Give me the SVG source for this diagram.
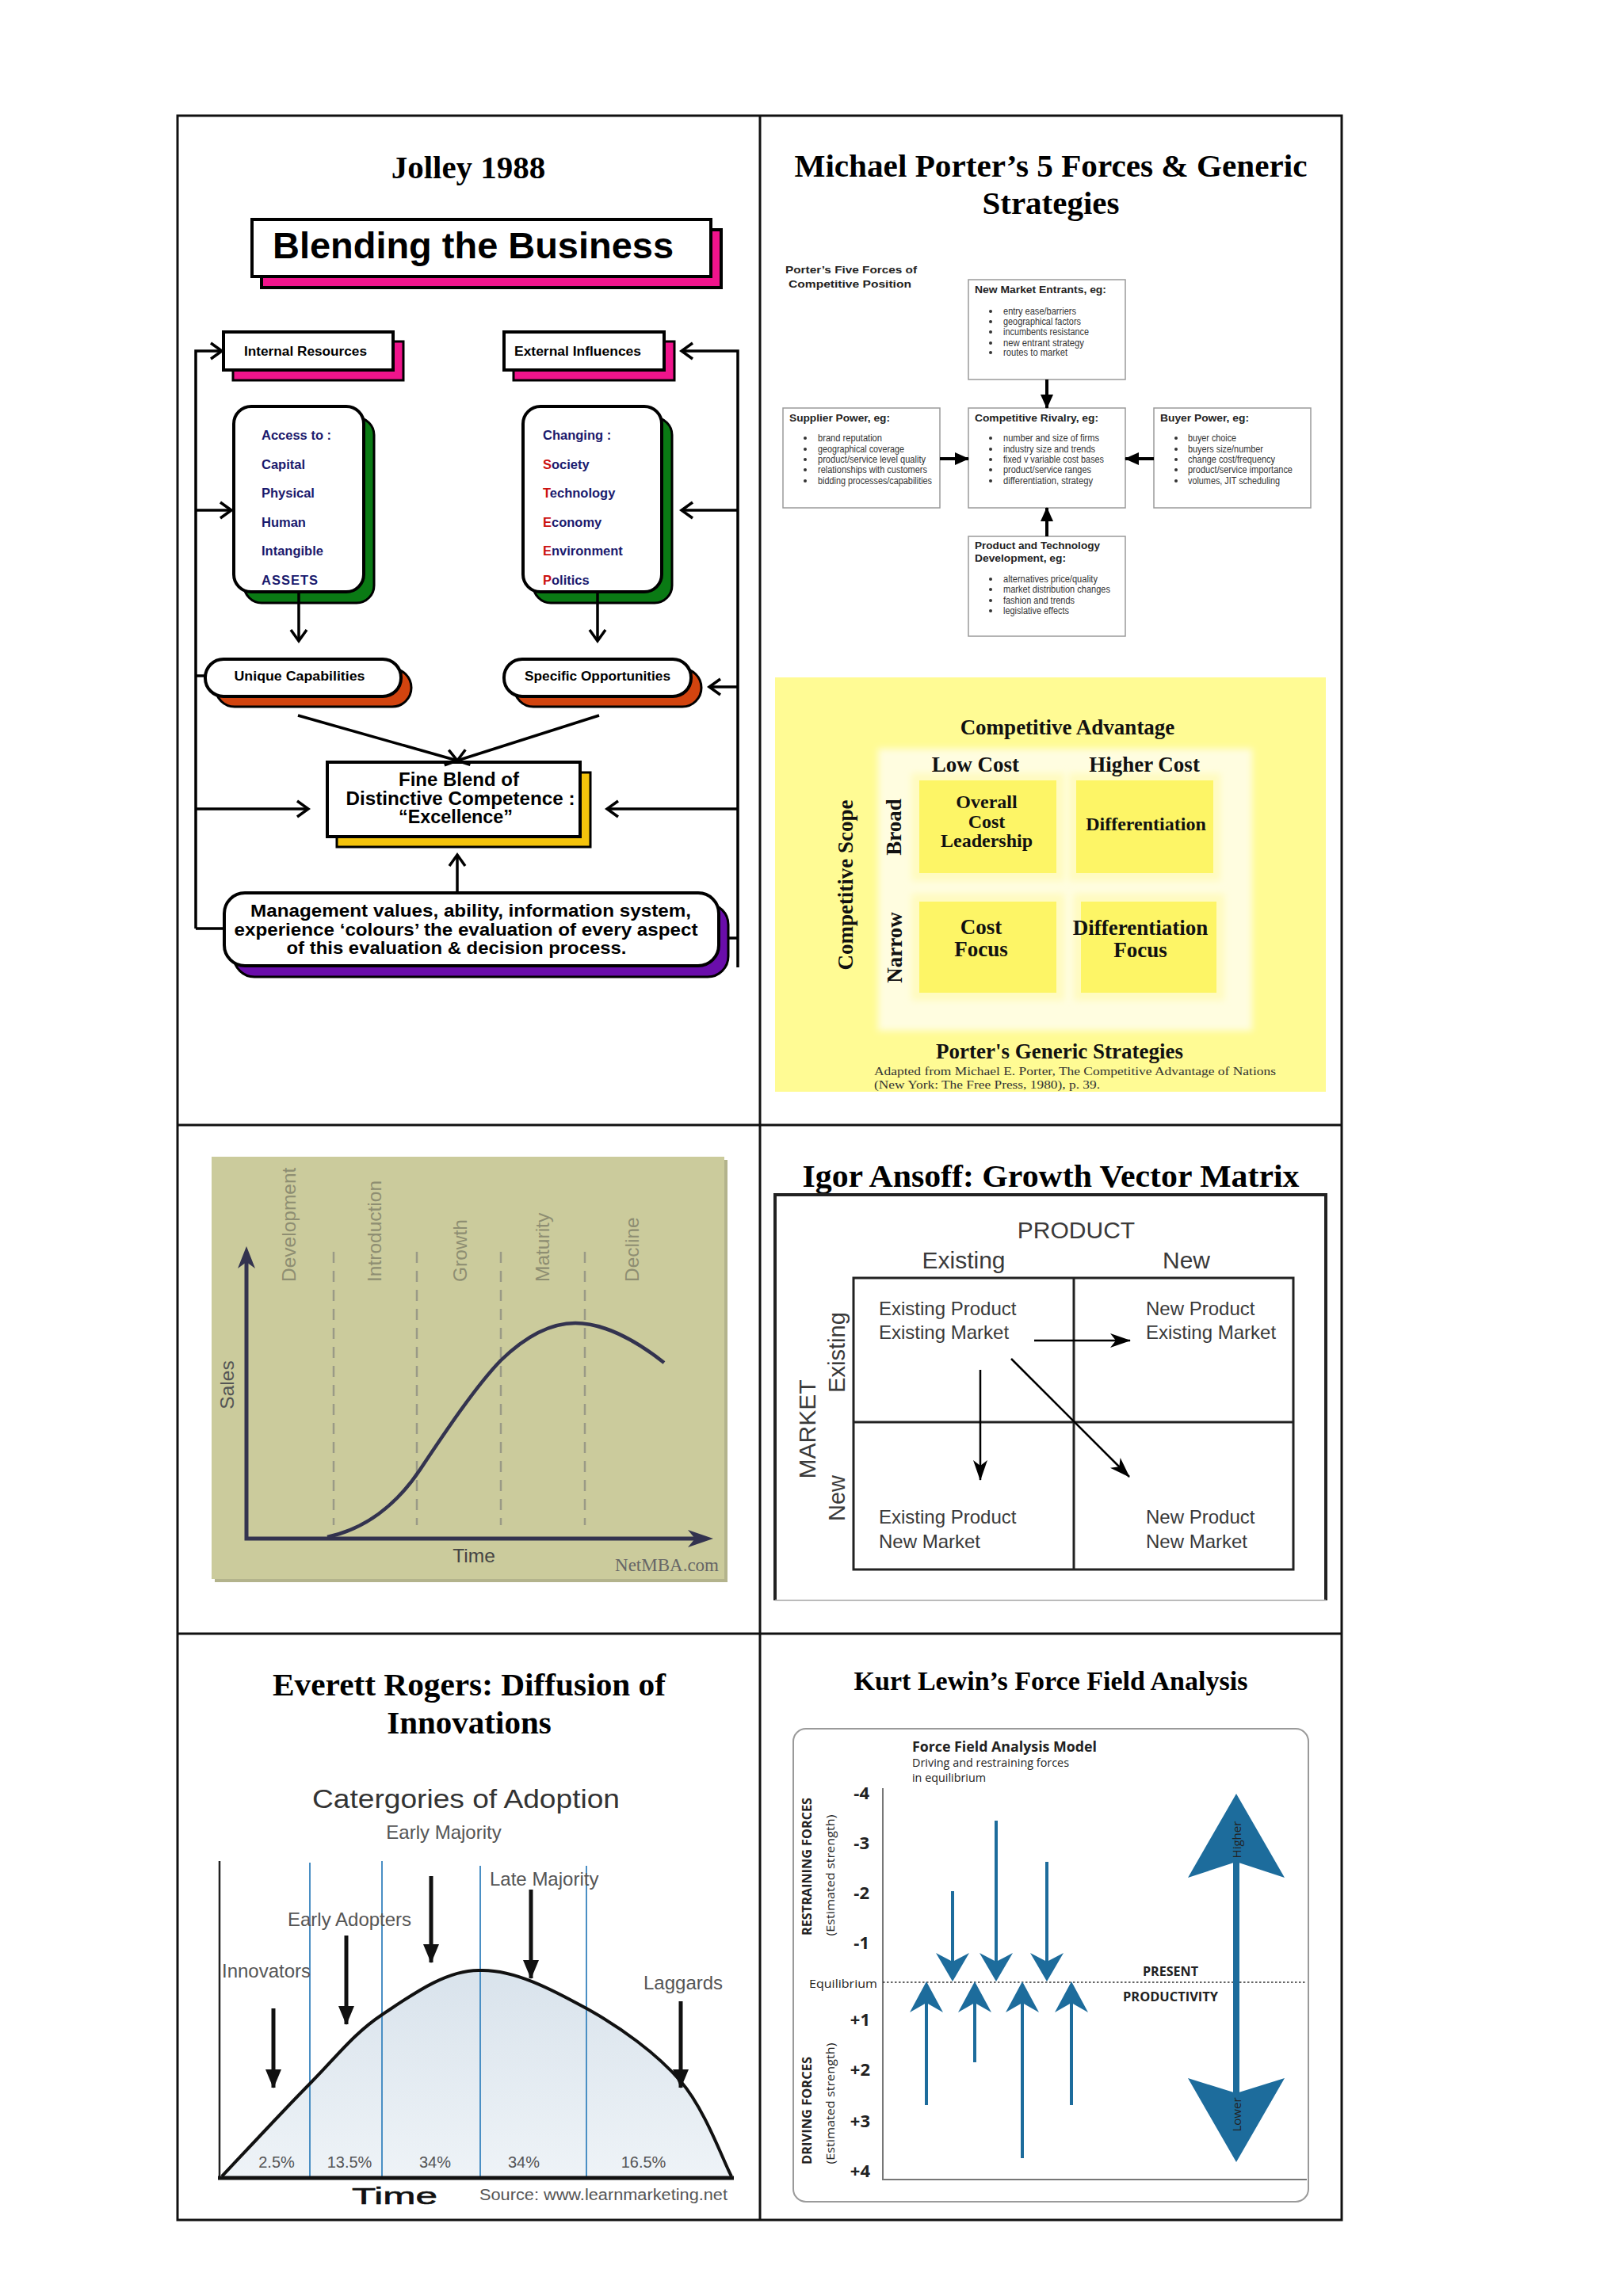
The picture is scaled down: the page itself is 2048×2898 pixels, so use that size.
<svg xmlns="http://www.w3.org/2000/svg" width="2048" height="2898" viewBox="0 0 2048 2898">
<defs>
<style>
.ttl{font-family:"Liberation Serif","Times New Roman",serif;font-weight:bold;fill:#000;text-anchor:middle}
.jb{font-family:"Liberation Sans",Arial,sans-serif;font-weight:bold;fill:#000}
.jl{font-family:"Liberation Sans",Arial,sans-serif;font-weight:bold;font-size:16.5px;fill:#1a1a6e}
.red{fill:#cc1111}
.fr{fill:#fff;stroke:#000;stroke-width:4}
.conn{fill:none;stroke:#000;stroke-width:3.5}
.pf{font-family:"Liberation Sans",Arial,sans-serif;fill:#222}
.pt{font-size:13px;font-weight:bold}
.pb{font-size:12px;fill:#333}
.pbox{fill:#fff;stroke:#9a9a9a;stroke-width:1.5}
.gs{font-family:"Liberation Serif","Times New Roman",serif;font-weight:bold;fill:#111;text-anchor:middle}
.ans{font-family:"Liberation Sans",Arial,sans-serif;fill:#3a3a3a}
.rog{font-family:"Liberation Sans",Arial,sans-serif;fill:#555}
.lw{font-family:"Open Sans","Liberation Sans",sans-serif;fill:#222}
.blue{fill:#1d6c9c}
.plc{font-family:"Liberation Sans",Arial,sans-serif;font-size:24.5px;fill:#8e8e72}
</style>
<marker id="vOpen" markerUnits="userSpaceOnUse" markerWidth="20" markerHeight="24" viewBox="0 0 20 24" refX="17" refY="12" orient="auto">
<path d="M3,2 L17,12 L3,22" fill="none" stroke="#000" stroke-width="3.5"/>
</marker>
<marker id="pHead" markerUnits="userSpaceOnUse" markerWidth="18" markerHeight="16" viewBox="0 0 18 16" refX="17" refY="8" orient="auto">
<path d="M0,0 L18,8 L0,16 Z" fill="#000"/>
</marker>
<marker id="aHead" markerUnits="userSpaceOnUse" markerWidth="26" markerHeight="20" viewBox="0 0 26 20" refX="25" refY="10" orient="auto">
<path d="M0,1 L26,10 L0,19 L7,10 Z" fill="#000"/>
</marker>
<marker id="rHead" markerUnits="userSpaceOnUse" markerWidth="24" markerHeight="22" viewBox="0 0 24 22" refX="23" refY="11" orient="auto">
<path d="M0,1 L24,11 L0,21 Z" fill="#111"/>
</marker>
<filter id="soft" x="-10%" y="-10%" width="120%" height="120%"><feGaussianBlur stdDeviation="4"/></filter>
<linearGradient id="bell" x1="0" y1="0" x2="0" y2="1"><stop offset="0" stop-color="#d9e3ec"/><stop offset="1" stop-color="#eef3f7"/></linearGradient>
</defs>

<rect width="2048" height="2898" fill="#fff"/>

<g id="table" fill="none" stroke="#111" stroke-width="3">
<rect x="224" y="146" width="1469" height="2656"/>
<line x1="959" y1="146" x2="959" y2="2802"/>
<line x1="224" y1="1420" x2="1693" y2="1420"/>
<line x1="224" y1="2062" x2="1693" y2="2062"/>
</g>

<!-- ============ JOLLEY ============ -->
<g id="jolley">
<text class="ttl" x="591" y="225" font-size="41">Jolley 1988</text>

<g id="blending">
<rect x="330" y="290" width="580" height="73" fill="#f0148c" stroke="#000" stroke-width="4"/>
<rect class="fr" x="318" y="277" width="579" height="72" stroke-width="5"/>
<text class="jb" x="344" y="326" font-size="47" textLength="506" lengthAdjust="spacingAndGlyphs">Blending the Business</text>
</g>

<g id="internal">
<rect x="294" y="431" width="215" height="49" fill="#f0148c" stroke="#000" stroke-width="3"/>
<rect class="fr" x="282" y="419" width="214" height="48"/>
<text class="jb" x="308" y="449" font-size="16" textLength="155" lengthAdjust="spacingAndGlyphs">Internal Resources</text>
</g>

<g id="external">
<rect x="648" y="431" width="203" height="49" fill="#f0148c" stroke="#000" stroke-width="3"/>
<rect class="fr" x="636" y="419" width="202" height="48"/>
<text class="jb" x="649" y="449" font-size="16" textLength="160" lengthAdjust="spacingAndGlyphs">External Influences</text>
</g>

<g id="access">
<rect x="308" y="527" width="164" height="234" rx="22" fill="#0a7a14" stroke="#000" stroke-width="3"/>
<rect class="fr" x="295" y="513" width="164" height="234" rx="22"/>
<text class="jl" x="330" y="555">Access to :</text>
<text class="jl" x="330" y="592">Capital</text>
<text class="jl" x="330" y="628">Physical</text>
<text class="jl" x="330" y="665">Human</text>
<text class="jl" x="330" y="701">Intangible</text>
<text class="jl" x="330" y="738" letter-spacing="1">ASSETS</text>
</g>

<g id="changing">
<rect x="673" y="527" width="175" height="234" rx="22" fill="#0a7a14" stroke="#000" stroke-width="3"/>
<rect class="fr" x="660" y="513" width="175" height="234" rx="22"/>
<text class="jl" x="685" y="555">Changing :</text>
<text class="jl" x="685" y="592"><tspan class="red">S</tspan>ociety</text>
<text class="jl" x="685" y="628"><tspan class="red">T</tspan>echnology</text>
<text class="jl" x="685" y="665"><tspan class="red">E</tspan>conomy</text>
<text class="jl" x="685" y="701"><tspan class="red">E</tspan>nvironment</text>
<text class="jl" x="685" y="738"><tspan class="red">P</tspan>olitics</text>
</g>

<g id="unique">
<rect x="272" y="844" width="247" height="48" rx="24" fill="#d2440f" stroke="#000" stroke-width="3"/>
<rect class="fr" x="259" y="832" width="247" height="47" rx="23"/>
<text class="jb" x="378" y="859" font-size="16" text-anchor="middle" textLength="165" lengthAdjust="spacingAndGlyphs">Unique Capabilities</text>
</g>

<g id="specific">
<rect x="649" y="844" width="236" height="48" rx="24" fill="#d2440f" stroke="#000" stroke-width="3"/>
<rect class="fr" x="636" y="832" width="236" height="47" rx="23"/>
<text class="jb" x="754" y="859" font-size="16" text-anchor="middle" textLength="184" lengthAdjust="spacingAndGlyphs">Specific Opportunities</text>
</g>

<g id="fineblend">
<rect x="425" y="975" width="320" height="94" fill="#f5c40c" stroke="#000" stroke-width="3"/>
<rect class="fr" x="413" y="962" width="319" height="94" stroke-width="5"/>
<text class="jb" x="579" y="992" font-size="23" text-anchor="middle" textLength="152" lengthAdjust="spacingAndGlyphs">Fine Blend of</text>
<text class="jb" x="581" y="1016" font-size="23" text-anchor="middle" textLength="289" lengthAdjust="spacingAndGlyphs">Distinctive Competence :</text>
<text class="jb" x="575" y="1039" font-size="23" text-anchor="middle" textLength="144" lengthAdjust="spacingAndGlyphs">“Excellence”</text>
</g>

<g id="management">
<rect x="295" y="1141" width="624" height="92" rx="26" fill="#6a0daa" stroke="#000" stroke-width="3"/>
<rect class="fr" x="283" y="1127" width="624" height="92" rx="26"/>
<text class="jb" x="594" y="1157" font-size="22" text-anchor="middle" textLength="556" lengthAdjust="spacingAndGlyphs">Management values, ability, information system,</text>
<text class="jb" x="588" y="1181" font-size="22" text-anchor="middle" textLength="585" lengthAdjust="spacingAndGlyphs">experience ‘colours’ the evaluation of every aspect</text>
<text class="jb" x="576" y="1204" font-size="22" text-anchor="middle" textLength="429" lengthAdjust="spacingAndGlyphs">of this evaluation &amp; decision process.</text>
</g>

<g id="jolley-connectors" class="conn">
<path d="M247,1172 L247,443 L280,443" marker-end="url(#vOpen)"/>
<path d="M247,644 L292,644" marker-end="url(#vOpen)"/>
<path d="M247,853 L259,853"/>
<path d="M247,1021 L389,1021" marker-end="url(#vOpen)"/>
<path d="M247,1172 L283,1172"/>
<path d="M931,1221 L931,443 L860,443" marker-end="url(#vOpen)"/>
<path d="M931,644 L860,644" marker-end="url(#vOpen)"/>
<path d="M931,867 L895,867" marker-end="url(#vOpen)"/>
<path d="M931,1021 L766,1021" marker-end="url(#vOpen)"/>
<path d="M919,1184 L931,1184"/>
<path d="M377,747 L377,809" marker-end="url(#vOpen)"/>
<path d="M754,747 L754,809" marker-end="url(#vOpen)"/>
<path d="M376,903 L577,960" marker-end="url(#vOpen)"/>
<path d="M756,903 L577,960" marker-end="url(#vOpen)"/>
<path d="M577,1127 L577,1079" marker-end="url(#vOpen)"/>
</g>
</g>

<!-- ============ PORTER 5 FORCES ============ -->
<g id="porter">
<text class="ttl" x="1326" y="223" font-size="41" textLength="647" lengthAdjust="spacingAndGlyphs">Michael Porter’s 5 Forces &amp; Generic</text>
<text class="ttl" x="1326" y="270" font-size="41">Strategies</text>

<g class="pf pt">
<text x="991" y="345" textLength="166" lengthAdjust="spacingAndGlyphs">Porter’s Five Forces of</text>
<text x="995" y="363" textLength="155" lengthAdjust="spacingAndGlyphs">Competitive Position</text>
</g>

<g id="newentrants" class="pf">
<rect class="pbox" x="1222" y="353" width="198" height="126"/>
<text class="pt" x="1230" y="370" textLength="166" lengthAdjust="spacingAndGlyphs">New Market Entrants, eg:</text>
<g fill="#333"><circle cx="1250" cy="393" r="2"/><circle cx="1250" cy="406" r="2"/><circle cx="1250" cy="419" r="2"/><circle cx="1250" cy="433" r="2"/><circle cx="1250" cy="445" r="2"/></g>
<text class="pb" x="1266" y="397" textLength="92" lengthAdjust="spacingAndGlyphs">entry ease/barriers</text>
<text class="pb" x="1266" y="410" textLength="98" lengthAdjust="spacingAndGlyphs">geographical factors</text>
<text class="pb" x="1266" y="423" textLength="108" lengthAdjust="spacingAndGlyphs">incumbents resistance</text>
<text class="pb" x="1266" y="437" textLength="102" lengthAdjust="spacingAndGlyphs">new entrant strategy</text>
<text class="pb" x="1266" y="449" textLength="81" lengthAdjust="spacingAndGlyphs">routes to market</text>
</g>

<g id="supplier" class="pf">
<rect class="pbox" x="988" y="515" width="198" height="126"/>
<text class="pt" x="996" y="532" textLength="127" lengthAdjust="spacingAndGlyphs">Supplier Power, eg:</text>
<g fill="#333"><circle cx="1016" cy="553" r="2"/><circle cx="1016" cy="567" r="2"/><circle cx="1016" cy="580" r="2"/><circle cx="1016" cy="593" r="2"/><circle cx="1016" cy="607" r="2"/></g>
<text class="pb" x="1032" y="557" textLength="81" lengthAdjust="spacingAndGlyphs">brand reputation</text>
<text class="pb" x="1032" y="571" textLength="109" lengthAdjust="spacingAndGlyphs">geographical coverage</text>
<text class="pb" x="1032" y="584" textLength="136" lengthAdjust="spacingAndGlyphs">product/service level quality</text>
<text class="pb" x="1032" y="597" textLength="138" lengthAdjust="spacingAndGlyphs">relationships with customers</text>
<text class="pb" x="1032" y="611" textLength="144" lengthAdjust="spacingAndGlyphs">bidding processes/capabilities</text>
</g>

<g id="rivalry" class="pf">
<rect class="pbox" x="1222" y="515" width="198" height="126"/>
<text class="pt" x="1230" y="532" textLength="156" lengthAdjust="spacingAndGlyphs">Competitive Rivalry, eg:</text>
<g fill="#333"><circle cx="1250" cy="553" r="2"/><circle cx="1250" cy="567" r="2"/><circle cx="1250" cy="580" r="2"/><circle cx="1250" cy="593" r="2"/><circle cx="1250" cy="607" r="2"/></g>
<text class="pb" x="1266" y="557" textLength="121" lengthAdjust="spacingAndGlyphs">number and size of firms</text>
<text class="pb" x="1266" y="571" textLength="116" lengthAdjust="spacingAndGlyphs">industry size and trends</text>
<text class="pb" x="1266" y="584" textLength="127" lengthAdjust="spacingAndGlyphs">fixed v variable cost bases</text>
<text class="pb" x="1266" y="597" textLength="111" lengthAdjust="spacingAndGlyphs">product/service ranges</text>
<text class="pb" x="1266" y="611" textLength="113" lengthAdjust="spacingAndGlyphs">differentiation, strategy</text>
</g>

<g id="buyer" class="pf">
<rect class="pbox" x="1456" y="515" width="198" height="126"/>
<text class="pt" x="1464" y="532" textLength="112" lengthAdjust="spacingAndGlyphs">Buyer Power, eg:</text>
<g fill="#333"><circle cx="1484" cy="553" r="2"/><circle cx="1484" cy="567" r="2"/><circle cx="1484" cy="580" r="2"/><circle cx="1484" cy="593" r="2"/><circle cx="1484" cy="607" r="2"/></g>
<text class="pb" x="1499" y="557" textLength="61" lengthAdjust="spacingAndGlyphs">buyer choice</text>
<text class="pb" x="1499" y="571" textLength="95" lengthAdjust="spacingAndGlyphs">buyers size/number</text>
<text class="pb" x="1499" y="584" textLength="110" lengthAdjust="spacingAndGlyphs">change cost/frequency</text>
<text class="pb" x="1499" y="597" textLength="132" lengthAdjust="spacingAndGlyphs">product/service importance</text>
<text class="pb" x="1499" y="611" textLength="116" lengthAdjust="spacingAndGlyphs">volumes, JIT scheduling</text>
</g>

<g id="prodtech" class="pf">
<rect class="pbox" x="1222" y="677" width="198" height="126"/>
<text class="pt" x="1230" y="693" textLength="158" lengthAdjust="spacingAndGlyphs">Product and Technology</text>
<text class="pt" x="1230" y="709" textLength="115" lengthAdjust="spacingAndGlyphs">Development, eg:</text>
<g fill="#333"><circle cx="1250" cy="731" r="2"/><circle cx="1250" cy="744" r="2"/><circle cx="1250" cy="758" r="2"/><circle cx="1250" cy="771" r="2"/></g>
<text class="pb" x="1266" y="735" textLength="119" lengthAdjust="spacingAndGlyphs">alternatives price/quality</text>
<text class="pb" x="1266" y="748" textLength="135" lengthAdjust="spacingAndGlyphs">market distribution changes</text>
<text class="pb" x="1266" y="762" textLength="90" lengthAdjust="spacingAndGlyphs">fashion and trends</text>
<text class="pb" x="1266" y="775" textLength="83" lengthAdjust="spacingAndGlyphs">legislative effects</text>
</g>

<g id="porter-connectors" fill="none" stroke="#000" stroke-width="4">
<path d="M1321,479 L1321,515" marker-end="url(#pHead)"/>
<path d="M1186,579 L1222,579" marker-end="url(#pHead)"/>
<path d="M1456,579 L1420,579" marker-end="url(#pHead)"/>
<path d="M1321,677 L1321,641" marker-end="url(#pHead)"/>
</g>
</g>

<!-- ============ PORTER GENERIC ============ -->
<g id="generic">
<rect x="978" y="855" width="695" height="523" fill="#fffb94"/>
<rect x="1108" y="945" width="472" height="356" fill="#fffde0" filter="url(#soft)"/>
<g id="cell-ocl">
<rect x="1150" y="976" width="193" height="136" fill="#fffbc0" filter="url(#soft)"/>
<rect x="1160" y="985" width="173" height="117" fill="#fdf566"/>
<text class="gs" x="1245" y="1020" font-size="24">Overall</text>
<text class="gs" x="1245" y="1045" font-size="24">Cost</text>
<text class="gs" x="1245" y="1069" font-size="24">Leadership</text>
</g>
<g id="cell-diff">
<rect x="1349" y="976" width="191" height="136" fill="#fffbc0" filter="url(#soft)"/>
<rect x="1358" y="985" width="173" height="117" fill="#fdf566"/>
<text class="gs" x="1446" y="1048" font-size="24">Differentiation</text>
</g>
<g id="cell-cf">
<rect x="1150" y="1128" width="193" height="135" fill="#fffbc0" filter="url(#soft)"/>
<rect x="1160" y="1138" width="173" height="115" fill="#fdf566"/>
<text class="gs" x="1238" y="1179" font-size="27">Cost</text>
<text class="gs" x="1238" y="1207" font-size="27">Focus</text>
</g>
<g id="cell-df">
<rect x="1355" y="1128" width="190" height="135" fill="#fffbc0" filter="url(#soft)"/>
<rect x="1364" y="1138" width="171" height="115" fill="#fdf566"/>
<text class="gs" x="1439" y="1180" font-size="27">Differentiation</text>
<text class="gs" x="1439" y="1208" font-size="27">Focus</text>
</g>
<text class="gs" x="1347" y="927" font-size="27">Competitive Advantage</text>
<text class="gs" x="1231" y="974" font-size="27">Low Cost</text>
<text class="gs" x="1444" y="974" font-size="27">Higher Cost</text>
<text class="gs" x="1076" y="1117" font-size="27" transform="rotate(-90 1076 1117)">Competitive Scope</text>
<text class="gs" x="1137" y="1044" font-size="27" transform="rotate(-90 1137 1044)">Broad</text>
<text class="gs" x="1138" y="1196" font-size="27" transform="rotate(-90 1138 1196)">Narrow</text>
<text class="gs" x="1337" y="1336" font-size="27">Porter's Generic Strategies</text>
<text x="1103" y="1357" font-family="Liberation Serif,serif" font-size="15" fill="#333" textLength="507" lengthAdjust="spacingAndGlyphs">Adapted from Michael E. Porter, The Competitive Advantage of Nations</text>
<text x="1103" y="1374" font-family="Liberation Serif,serif" font-size="15" fill="#333" textLength="285" lengthAdjust="spacingAndGlyphs">(New York: The Free Press, 1980), p. 39.</text>
</g>

<!-- ============ PRODUCT LIFE CYCLE ============ -->
<g id="plc">
<rect x="271" y="1464" width="647" height="533" fill="#b3b38c"/>
<rect x="267" y="1460" width="647" height="533" fill="#cbcb9c"/>
<g stroke="#9a9a86" stroke-width="2.5" stroke-dasharray="14 10">
<line x1="421" y1="1580" x2="421" y2="1925"/>
<line x1="526" y1="1580" x2="526" y2="1925"/>
<line x1="632" y1="1580" x2="632" y2="1925"/>
<line x1="738" y1="1580" x2="738" y2="1925"/>
</g>
<text class="plc" x="373" y="1618" transform="rotate(-90 373 1618)">Development</text>
<text class="plc" x="481" y="1618" transform="rotate(-90 481 1618)">Introduction</text>
<text class="plc" x="589" y="1618" transform="rotate(-90 589 1618)">Growth</text>
<text class="plc" x="693" y="1618" transform="rotate(-90 693 1618)">Maturity</text>
<text class="plc" x="806" y="1618" transform="rotate(-90 806 1618)">Decline</text>
<text x="295" y="1748" font-family="Liberation Sans,sans-serif" font-size="24.5" fill="#555" text-anchor="middle" transform="rotate(-90 295 1748)">Sales</text>
<text x="598" y="1972" font-family="Liberation Sans,sans-serif" font-size="24.5" fill="#444" text-anchor="middle">Time</text>
<text x="907" y="1983" font-family="Liberation Serif,serif" font-size="23" fill="#666" text-anchor="end">NetMBA.com</text>
<g fill="none" stroke="#33334f" stroke-width="5">
<path d="M311,1590 L311,1942 L880,1942"/>
<path d="M413,1940 C460,1930 500,1900 530,1855 C560,1810 600,1750 632,1717 C665,1685 695,1670 726,1670 C760,1670 800,1690 838,1720" stroke-width="4.5"/>
</g>
<path d="M311,1573 L322,1601 L311,1593 L300,1601 Z" fill="#33334f"/>
<path d="M900,1942 L868,1931 L877,1942 L868,1953 Z" fill="#33334f"/>
</g>

<!-- ============ ANSOFF ============ -->
<g id="ansoff">
<text class="ttl" x="1326" y="1498" font-size="41" textLength="627" lengthAdjust="spacingAndGlyphs">Igor Ansoff: Growth Vector Matrix</text>
<path d="M978,2020 L978,1508 L1673,1508 L1673,2020" fill="none" stroke="#222" stroke-width="4"/>
<line x1="978" y1="2020" x2="1673" y2="2020" stroke="#bbb" stroke-width="2"/>
<text class="ans" x="1358" y="1563" font-size="30" text-anchor="middle">PRODUCT</text>
<text class="ans" x="1216" y="1601" font-size="30" text-anchor="middle">Existing</text>
<text class="ans" x="1497" y="1601" font-size="30" text-anchor="middle">New</text>
<text class="ans" x="1029" y="1804" font-size="30" text-anchor="middle" transform="rotate(-90 1029 1804)">MARKET</text>
<text class="ans" x="1066" y="1707" font-size="29" text-anchor="middle" transform="rotate(-90 1066 1707)">Existing</text>
<text class="ans" x="1066" y="1891" font-size="29" text-anchor="middle" transform="rotate(-90 1066 1891)">New</text>
<g fill="none" stroke="#222" stroke-width="3">
<rect x="1077" y="1613" width="555" height="368"/>
<line x1="1355" y1="1613" x2="1355" y2="1981"/>
<line x1="1077" y1="1795" x2="1632" y2="1795"/>
</g>
<g id="q-epem"><text class="ans" x="1109" y="1660" font-size="24">Existing Product</text><text class="ans" x="1109" y="1690" font-size="24">Existing Market</text></g>
<g id="q-npem"><text class="ans" x="1446" y="1660" font-size="24">New Product</text><text class="ans" x="1446" y="1690" font-size="24">Existing Market</text></g>
<g id="q-epnm"><text class="ans" x="1109" y="1923" font-size="24">Existing Product</text><text class="ans" x="1109" y="1954" font-size="24">New Market</text></g>
<g id="q-npnm"><text class="ans" x="1446" y="1923" font-size="24">New Product</text><text class="ans" x="1446" y="1954" font-size="24">New Market</text></g>
<g id="ansoff-connectors" fill="none" stroke="#000" stroke-width="2.5">
<path d="M1305,1692 L1426,1692" marker-end="url(#aHead)"/>
<path d="M1237,1729 L1237,1868" marker-end="url(#aHead)"/>
<path d="M1276,1715 L1425,1864" marker-end="url(#aHead)"/>
</g>
</g>

<!-- ============ ROGERS ============ -->
<g id="rogers">
<text class="ttl" x="592" y="2140" font-size="41" textLength="496" lengthAdjust="spacingAndGlyphs">Everett Rogers: Diffusion of</text>
<text class="ttl" x="592" y="2188" font-size="41">Innovations</text>
<text x="588" y="2282" font-family="Liberation Sans,sans-serif" font-size="34" fill="#333" text-anchor="middle" textLength="388" lengthAdjust="spacingAndGlyphs">Catergories of Adoption</text>
<path d="M280,2749 L280,2747 C298.5,2727.5 357.3,2664 391,2630 C424.7,2596 446.2,2566.8 482,2543 C517.8,2519.2 563,2485.7 606,2487 C649,2485.7 697.8,2511.7 740,2535 C782.2,2558.3 828.5,2591.7 859,2627 C889.5,2662.3 912.3,2727 923,2747 L923,2749 Z" fill="url(#bell)"/>
<g stroke="#4a8fc4" stroke-width="2">
<line x1="391" y1="2351" x2="391" y2="2749"/>
<line x1="482" y1="2349" x2="482" y2="2749"/>
<line x1="606" y1="2355" x2="606" y2="2749"/>
<line x1="740" y1="2355" x2="740" y2="2749"/>
</g>
<path d="M280,2747 C298.5,2727.5 357.3,2664 391,2630 C424.7,2596 446.2,2566.8 482,2543 C517.8,2519.2 563,2485.7 606,2487 C649,2485.7 697.8,2511.7 740,2535 C782.2,2558.3 828.5,2591.7 859,2627 C889.5,2662.3 912.3,2727 923,2747" fill="none" stroke="#111" stroke-width="4"/>
<line x1="277" y1="2349" x2="277" y2="2749" stroke="#222" stroke-width="2.5"/>
<line x1="275" y1="2749" x2="926" y2="2749" stroke="#111" stroke-width="5"/>
<g class="rog" font-size="24">
<text x="560" y="2321" text-anchor="middle">Early Majority</text>
<text x="280" y="2496">Innovators</text>
<text x="363" y="2431">Early Adopters</text>
<text x="618" y="2380">Late Majority</text>
<text x="812" y="2511">Laggards</text>
</g>
<g class="rog" font-size="20" text-anchor="middle">
<text x="349" y="2736">2.5%</text>
<text x="441" y="2736">13.5%</text>
<text x="549" y="2736">34%</text>
<text x="661" y="2736">34%</text>
<text x="812" y="2736">16.5%</text>
</g>
<text x="444" y="2782" font-family="Liberation Sans,sans-serif" font-size="30" fill="#111" stroke="#111" stroke-width="0.6" textLength="108" lengthAdjust="spacingAndGlyphs">Time</text>
<text x="605" y="2777" font-family="Liberation Sans,sans-serif" font-size="20" fill="#555" textLength="313" lengthAdjust="spacingAndGlyphs">Source: www.learnmarketing.net</text>
<g id="rogers-connectors" stroke="#111" stroke-width="5" fill="none">
<path d="M345,2535 L345,2635" marker-end="url(#rHead)"/>
<path d="M437,2443 L437,2555" marker-end="url(#rHead)"/>
<path d="M544,2368 L544,2477" marker-end="url(#rHead)"/>
<path d="M670,2385 L670,2497" marker-end="url(#rHead)"/>
<path d="M859,2526 L859,2635" marker-end="url(#rHead)"/>
</g>
</g>

<!-- ============ LEWIN ============ -->
<g id="lewin">
<text class="ttl" x="1326" y="2133" font-size="34">Kurt Lewin’s Force Field Analysis</text>
<rect x="1001" y="2182" width="650" height="597" rx="16" fill="#fff" stroke="#9a9a9a" stroke-width="2"/>
<text class="lw" x="1151" y="2211" font-size="18" font-weight="bold" textLength="233" lengthAdjust="spacingAndGlyphs">Force Field Analysis Model</text>
<text class="lw" x="1151" y="2230" font-size="14" fill="#444" textLength="198" lengthAdjust="spacingAndGlyphs">Driving and restraining forces</text>
<text class="lw" x="1151" y="2249" font-size="14" fill="#444" textLength="93" lengthAdjust="spacingAndGlyphs">in equilibrium</text>
<path d="M1114,2257 L1114,2751 L1649,2751" fill="none" stroke="#777" stroke-width="2"/>
<line x1="1114" y1="2502" x2="1649" y2="2502" stroke="#333" stroke-width="1.5" stroke-dasharray="2.5 2.5"/>
<text class="lw" x="1107" y="2509" font-size="15" fill="#444" text-anchor="end" textLength="86" lengthAdjust="spacingAndGlyphs">Equilibrium</text>
<g class="lw" font-size="22" font-weight="bold" text-anchor="end">
<text x="1097" y="2271">-4</text>
<text x="1097" y="2334">-3</text>
<text x="1097" y="2397">-2</text>
<text x="1097" y="2460">-1</text>
<text x="1098" y="2557">+1</text>
<text x="1098" y="2620">+2</text>
<text x="1098" y="2685">+3</text>
<text x="1098" y="2748">+4</text>
</g>
<text class="lw" x="1024" y="2356" font-size="16" font-weight="bold" text-anchor="middle" textLength="174" lengthAdjust="spacingAndGlyphs" transform="rotate(-90 1024 2356)">RESTRAINING FORCES</text>
<text class="lw" x="1053" y="2367" font-size="15" fill="#333" text-anchor="middle" textLength="153" lengthAdjust="spacingAndGlyphs" transform="rotate(-90 1053 2367)">(Estimated strength)</text>
<text class="lw" x="1024" y="2664" font-size="16" font-weight="bold" text-anchor="middle" textLength="136" lengthAdjust="spacingAndGlyphs" transform="rotate(-90 1024 2664)">DRIVING FORCES</text>
<text class="lw" x="1053" y="2655" font-size="15" fill="#333" text-anchor="middle" textLength="153" lengthAdjust="spacingAndGlyphs" transform="rotate(-90 1053 2655)">(Estimated strength)</text>
<text class="lw" x="1477" y="2494" font-size="16" font-weight="bold" fill="#333" text-anchor="middle" textLength="70" lengthAdjust="spacingAndGlyphs">PRESENT</text>
<text class="lw" x="1477" y="2526" font-size="16" font-weight="bold" fill="#333" text-anchor="middle" textLength="120" lengthAdjust="spacingAndGlyphs">PRODUCTIVITY</text>
<g id="lewin-connectors" class="blue">
<rect x="1200" y="2387" width="4" height="90"/><path d="M1202,2501 L1181,2465 L1202,2476 L1223,2465 Z"/>
<rect x="1255" y="2298" width="4" height="179"/><path d="M1257,2501 L1236,2465 L1257,2476 L1278,2465 Z"/>
<rect x="1319" y="2350" width="4" height="127"/><path d="M1321,2501 L1300,2465 L1321,2476 L1342,2465 Z"/>
<rect x="1167" y="2527" width="4" height="130"/><path d="M1169,2501 L1148,2540 L1169,2528 L1190,2540 Z"/>
<rect x="1228" y="2527" width="4" height="76"/><path d="M1230,2501 L1209,2540 L1230,2528 L1251,2540 Z"/>
<rect x="1288" y="2527" width="4" height="197"/><path d="M1290,2501 L1269,2540 L1290,2528 L1311,2540 Z"/>
<rect x="1350" y="2527" width="4" height="130"/><path d="M1352,2501 L1331,2540 L1352,2528 L1373,2540 Z"/>
<rect x="1556" y="2345" width="8" height="302"/>
<path d="M1560,2264 L1621,2370 L1560,2350 L1499,2370 Z"/>
<path d="M1560,2729 L1621,2623 L1560,2642 L1499,2623 Z"/>
</g>
<text class="lw" x="1566" y="2322" font-size="15" fill="#fff" text-anchor="middle" transform="rotate(-90 1566 2322)">Higher</text>
<text class="lw" x="1566" y="2669" font-size="15" fill="#fff" text-anchor="middle" transform="rotate(-90 1566 2669)">Lower</text>
</g>
</svg>
